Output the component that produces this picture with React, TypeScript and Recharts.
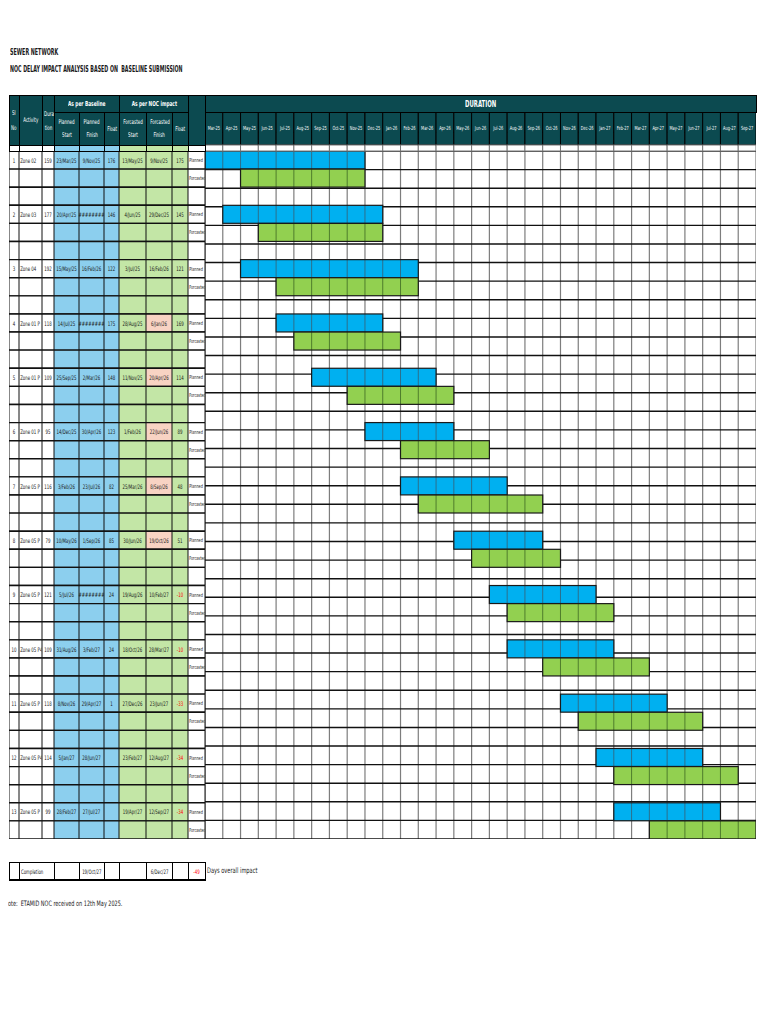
import React from "react";
import { Bar, BarChart, CartesianGrid, XAxis, YAxis } from "recharts";

const FONT = "'Liberation Sans Narrow', 'DejaVu Sans Condensed', 'Arial Narrow', sans-serif";
const TEAL = "#0c4a50";
const BLUE = "#00b0f0";
const GREEN = "#92d050";
const BLUE_LT = "#8ccfee";
const GREEN_LT = "#c3e6a6";
const PINK = "#f8d3c3";
const RED = "#ff0000";

const MONTHS = [
  "Mar-25", "Apr-25", "May-25", "Jun-25", "Jul-25", "Aug-25", "Sep-25", "Oct-25", "Nov-25", "Dec-25",
  "Jan-26", "Feb-26", "Mar-26", "Apr-26", "May-26", "Jun-26", "Jul-26", "Aug-26", "Sep-26", "Oct-26",
  "Nov-26", "Dec-26", "Jan-27", "Feb-27", "Mar-27", "Apr-27", "May-27", "Jun-27", "Jul-27", "Aug-27", "Sep-27",
];

const SL = [1, 2, 3, 4, 5, 6, 7, 8, 9, 10, 11, 12, 13];
const ACTIVITY = [
  "Zone 02", "Zone 03", "Zone 04", "Zone 01 P", "Zone 01 P", "Zone 01 P", "Zone 05 P",
  "Zone 05 P", "Zone 05 P", "Zone 05 P4", "Zone 05 P", "Zone 05 P4", "Zone 05 P",
];
const DURATION = [159, 177, 192, 118, 109, 95, 116, 79, 121, 109, 118, 114, 99];
const PLANNED_START = [
  "23/Mar/25", "20/Apr/25", "15/May/25", "14/Jul/25", "25/Sep/25", "14/Dec/25", "3/Feb/26",
  "10/May/26", "5/Jul/26", "31/Aug/26", "8/Nov/26", "5/Jan/27", "28/Feb/27",
];
const PLANNED_FINISH = [
  "9/Nov/25", "########", "16/Feb/26", "########", "2/Mar/26", "30/Apr/26", "23/Jul/26",
  "1/Sep/26", "########", "3/Feb/27", "29/Apr/27", "28/Jun/27", "27/Jul/27",
];
const BASE_FLOAT: (number | null)[] = [176, 146, 122, 175, 148, 123, 82, 85, 24, 24, 1, null, null];
const FC_START = [
  "13/May/25", "4/Jun/25", "3/Jul/25", "28/Aug/25", "11/Nov/25", "1/Feb/26", "25/Mar/26",
  "30/Jun/26", "19/Aug/26", "18/Oct/26", "27/Dec/26", "23/Feb/27", "19/Apr/27",
];
const FC_FINISH = [
  "9/Nov/25", "29/Dec/25", "16/Feb/26", "6/Jan/26", "20/Apr/26", "22/Jun/26", "8/Sep/26",
  "19/Oct/26", "10/Feb/27", "28/Mar/27", "23/Jun/27", "12/Aug/27", "12/Sep/27",
];
const FC_FINISH_FLAG = [false, false, false, true, true, true, true, true, false, false, false, false, false];
const FC_FLOAT = [175, 145, 121, 169, 114, 89, 48, 51, -10, -10, -33, -34, -34];

// month index (0 = Mar-25) of first and last month of each bar
const PLANNED_FROM = [0, 1, 2, 4, 6, 9, 11, 14, 16, 17, 20, 22, 23];
const PLANNED_TO = [8, 9, 11, 9, 12, 13, 16, 18, 21, 22, 25, 27, 28];
const FC_FROM = [2, 3, 4, 5, 8, 11, 12, 15, 17, 19, 21, 23, 25];
const FC_TO = [8, 9, 11, 10, 13, 15, 18, 19, 22, 24, 27, 29, 30];

const COMPLETION_PLANNED = "19/Oct/27";
const COMPLETION_FORECAST = "6/Dec/27";
const OVERALL_IMPACT = -49;

type Row = { key: string; kind: "planned" | "forecast" | "blank"; task: number; range: [number, number] | null };
const ROWS: Row[] = [];
SL.forEach((_, i) => {
  ROWS.push({ key: `p${i}`, kind: "planned", task: i, range: [PLANNED_FROM[i], PLANNED_TO[i] + 1] });
  ROWS.push({ key: `f${i}`, kind: "forecast", task: i, range: [FC_FROM[i], FC_TO[i] + 1] });
  if (i < SL.length - 1) ROWS.push({ key: `b${i}`, kind: "blank", task: i, range: null });
});

const CHART_LEFT = 9;
const CHART_TOP = 95;
const CHART_W = 747;
const CHART_H = 744;
const AXIS_W = 196;
const HEAD_H = 56;
const COL_W = (CHART_W - AXIS_W) / MONTHS.length;
const ROW_H = (CHART_H - HEAD_H) / ROWS.length;
const MONTH_TICKS = MONTHS.map((_, i) => i).concat(MONTHS.length);
const ROW_TICKS = ROWS.map((_, i) => i).concat(ROWS.length);
const SQ = 0.7; // horizontal squeeze for the narrow spreadsheet font

// left table column edges, relative to the table's left edge
const EDGES = [0, 10, 33, 45, 70, 95, 110, 137, 163, 179, 196];

function cellBg(row: Row, c: number) {
  if (c >= 3 && c <= 5) return BLUE_LT;
  if (c >= 6 && c <= 8) {
    if (c === 7 && row.kind === "planned" && FC_FINISH_FLAG[row.task]) return PINK;
    return GREEN_LT;
  }
  return "#fff";
}

function cellText(row: Row, c: number): { t: string; color?: string } {
  const i = row.task;
  if (c === 9) {
    if (row.kind === "planned") return { t: "Planned" };
    if (row.kind === "forecast") return { t: "Forcasted" };
    return { t: "" };
  }
  if (row.kind !== "planned") return { t: "" };
  switch (c) {
    case 0: return { t: String(SL[i]) };
    case 1: return { t: ACTIVITY[i] };
    case 2: return { t: String(DURATION[i]) };
    case 3: return { t: PLANNED_START[i] };
    case 4: return { t: PLANNED_FINISH[i] };
    case 5: return { t: BASE_FLOAT[i] == null ? "" : String(BASE_FLOAT[i]) };
    case 6: return { t: FC_START[i] };
    case 7: return { t: FC_FINISH[i] };
    case 8: return { t: String(FC_FLOAT[i]), color: FC_FLOAT[i] < 0 ? RED : undefined };
  }
  return { t: "" };
}

function TableRow(props: any) {
  const { x, y, payload } = props;
  const row = ROWS.find((r) => r.key === payload.value);
  if (!row) return null;
  const left = x - AXIS_W;
  const top = y - ROW_H / 2;
  return (
    <g>
      {EDGES.slice(0, -1).map((e, c) => {
        const w = EDGES[c + 1] - e;
        const { t, color } = cellText(row, c);
        const clip = c === 1 || c === 9;
        const id = `clip-${row.key}-${c}`;
        const anchor = clip ? "start" : "middle";
        const tx = clip ? left + e + 1.2 : left + e + w / 2;
        return (
          <g key={c}>
            <rect x={left + e} y={top} width={w} height={ROW_H} fill={cellBg(row, c)} />
            {clip && (
              <defs>
                <clipPath id={id}>
                  <rect x={left + e} y={top} width={w - 0.5} height={ROW_H} />
                </clipPath>
              </defs>
            )}
            {t && (
              <g clipPath={clip ? `url(#${id})` : undefined}>
                <text
                  x={tx}
                  y={y + 0.3}
                  textAnchor={anchor}
                  dominantBaseline="central"
                  fontSize={c === 9 ? 5.4 : 6.2}
                  fontFamily={FONT}
                  fill={color ?? "#1a1a1a"}
                  transform={`matrix(${SQ},0,0,1,${tx * (1 - SQ)},0)`}
                >
                  {t}
                </text>
              </g>
            )}
          </g>
        );
      })}
      {EDGES.map((e, c) => (
        <line key={`v${c}`} x1={left + e} x2={left + e} y1={top} y2={top + ROW_H} stroke="#111" strokeWidth={1} />
      ))}
      <line x1={left} x2={x} y1={top} y2={top} stroke="#111" strokeWidth={1.4} />
      <line x1={left} x2={x} y1={top + ROW_H} y2={top + ROW_H} stroke="#111" strokeWidth={1.4} />
    </g>
  );
}

function MonthTick(props: any) {
  const { x, y, payload } = props;
  const i = payload.value;
  if (i >= MONTHS.length) return null;
  const tx = x + COL_W / 2;
  return (
    <g>
      <rect x={x} y={y - 39} width={COL_W} height={33} fill={TEAL} stroke="#000" strokeWidth={1} />
      <rect x={x} y={y - 6} width={COL_W} height={6} fill="#fff" stroke="#777" strokeWidth={1} />
      <text
        x={tx}
        y={y - 22.5}
        textAnchor="middle"
        dominantBaseline="central"
        fill="#fff"
        fontSize={5.6}
        fontFamily={FONT}
        transform={`matrix(${SQ},0,0,1,${tx * (1 - SQ)},0)`}
      >
        {MONTHS[i]}
      </text>
    </g>
  );
}

function GanttBar(props: any) {
  const { x, y, width, height, payload } = props;
  if (!payload || !payload.range || !isFinite(width) || !isFinite(x)) return null;
  const n = payload.range[1] - payload.range[0];
  const fill = payload.kind === "planned" ? BLUE : GREEN;
  const divider = payload.kind === "planned" ? "#2c6f8c" : "#4f7d2c";
  return (
    <g>
      <rect x={x} y={y} width={width} height={height} fill={fill} />
      {Array.from({ length: n - 1 }, (_, k) => (
        <line
          key={k}
          x1={x + (width * (k + 1)) / n}
          x2={x + (width * (k + 1)) / n}
          y1={y}
          y2={y + height}
          stroke={divider}
          strokeWidth={1}
        />
      ))}
      <rect x={x} y={y} width={width} height={height} fill="none" stroke="#1a1a1a" strokeWidth={1.2} />
    </g>
  );
}

function N({ s = SQ, origin = "center", children }: any) {
  return (
    <span style={{ display: "inline-block", transform: `scaleX(${s})`, transformOrigin: origin, whiteSpace: "pre" }}>
      {children}
    </span>
  );
}

function Box({ x, y, w, h, bg, children, style }: any) {
  return (
    <div
      style={{
        position: "absolute",
        left: x,
        top: y,
        width: w + 1,
        height: h + 1,
        boxSizing: "border-box",
        border: "1px solid #000",
        background: bg,
        display: "flex",
        alignItems: "center",
        justifyContent: "center",
        textAlign: "center",
        color: "#fff",
        fontSize: 6.4,
        lineHeight: "13px",
        overflow: "hidden",
        ...style,
      }}
    >
      {children}
    </div>
  );
}

function Header() {
  const E = EDGES.map((e) => e + CHART_LEFT);
  const subs = [
    ["Planned", "Start"], ["Planned", "Finish"], ["Float"],
    ["Forcasted", "Start"], ["Forcasted", "Finish"], ["Float"],
  ];
  return (
    <>
      <Box x={E[0]} y={95} w={E[1] - E[0]} h={50} bg={TEAL} style={{ justifyContent: "flex-start", paddingLeft: 1, lineHeight: "15px" }}>
        <span>
          <N origin="left">Sl</N>
          <br />
          <N origin="left">No</N>
        </span>
      </Box>
      <Box x={E[1]} y={95} w={E[2] - E[1]} h={50} bg={TEAL}><N>Activity</N></Box>
      <Box x={E[2]} y={95} w={E[3] - E[2]} h={50} bg={TEAL} style={{ lineHeight: "14px" }}>
        <span>
          <N>Dura</N>
          <br />
          <N>tion</N>
        </span>
      </Box>
      <Box x={E[3]} y={95} w={E[6] - E[3]} h={17} bg={TEAL} style={{ fontWeight: 700, fontSize: 6.8 }}>
        <N>As per Baseline</N>
      </Box>
      <Box x={E[6]} y={95} w={E[9] - E[6]} h={17} bg={TEAL} style={{ fontWeight: 700, fontSize: 6.8 }}>
        <N>As per NOC impact</N>
      </Box>
      <Box x={E[9]} y={95} w={E[10] - E[9]} h={50} bg={TEAL} />
      {subs.map((s, k) => (
        <Box key={k} x={E[3 + k]} y={112} w={E[4 + k] - E[3 + k]} h={33} bg={TEAL}>
          <span>
            {s.map((part, j) => (
              <React.Fragment key={j}>
                {j > 0 && <br />}
                <N>{part}</N>
              </React.Fragment>
            ))}
          </span>
        </Box>
      ))}
      {E.slice(0, -1).map((e, c) => (
        <Box
          key={`s${c}`}
          x={e}
          y={145}
          w={E[c + 1] - e}
          h={6}
          bg={c >= 3 && c <= 5 ? BLUE_LT : c >= 6 && c <= 8 ? GREEN_LT : "#fff"}
        />
      ))}
      <Box x={205} y={95} w={551} h={17} bg={TEAL} style={{ fontWeight: 700, fontSize: 9 }}>
        <N s={0.66}>DURATION</N>
      </Box>
    </>
  );
}

function Completion() {
  const cells = [
    { x0: 9, x1: 19, t: "" },
    { x0: 19, x1: 54, t: "Completion", left: true },
    { x0: 54, x1: 79, t: "" },
    { x0: 79, x1: 104, t: COMPLETION_PLANNED },
    { x0: 104, x1: 119, t: "" },
    { x0: 119, x1: 146, t: "" },
    { x0: 146, x1: 172, t: COMPLETION_FORECAST },
    { x0: 172, x1: 188, t: "" },
    { x0: 188, x1: 205, t: String(OVERALL_IMPACT), red: true },
  ];
  return (
    <>
      {cells.map((c, k) => (
        <Box
          key={k}
          x={c.x0}
          y={862}
          w={c.x1 - c.x0}
          h={18}
          bg="#fff"
          style={{
            color: c.red ? RED : "#1a1a1a",
            borderBottom: "2px solid #000",
            justifyContent: c.left ? "flex-start" : "center",
            paddingLeft: c.left ? 1 : 0,
            fontSize: 6.2,
          }}
        >
          {c.t && <N origin={c.left ? "left" : "center"}>{c.t}</N>}
        </Box>
      ))}
      <div style={{ position: "absolute", left: 207, top: 866, fontSize: 7.6, color: "#1a1a1a", lineHeight: "9px" }}>
        <N s={0.74} origin="left">Days overall impact</N>
      </div>
    </>
  );
}

export default function App() {
  return (
    <div
      style={{
        position: "absolute",
        left: 0,
        top: 0,
        width: 768,
        height: 1024,
        background: "#fff",
        fontFamily: FONT,
        color: "#1a1a1a",
      }}
    >
      <div style={{ position: "absolute", left: 10, top: 47, fontSize: 8.4, fontWeight: 700, lineHeight: "10px" }}>
        <N s={0.64} origin="left">SEWER NETWORK</N>
      </div>
      <div style={{ position: "absolute", left: 10, top: 64, fontSize: 8.4, fontWeight: 700, lineHeight: "10px" }}>
        <N s={0.63} origin="left">{"NOC DELAY IMPACT ANALYSIS BASED ON  BASELINE SUBMISSION"}</N>
      </div>

      <div style={{ position: "absolute", left: CHART_LEFT, top: CHART_TOP }}>
        <BarChart
          width={CHART_W}
          height={CHART_H}
          data={ROWS}
          layout="vertical"
          margin={{ top: 0, right: 0, bottom: 0, left: 0 }}
          barCategoryGap={0}
        >
          <CartesianGrid yAxisId="grid" stroke="#7d7d7d" strokeWidth={1.2} horizontal={false} />
          <CartesianGrid yAxisId="grid" stroke="#111" strokeWidth={1.4} vertical={false} />
          <XAxis
            type="number"
            orientation="top"
            domain={[0, MONTHS.length]}
            ticks={MONTH_TICKS}
            interval={0}
            height={HEAD_H}
            axisLine={false}
            tickLine={false}
            tickSize={0}
            tickMargin={0}
            tick={(p: any) => <MonthTick {...p} />}
          />
          <YAxis
            type="category"
            dataKey="key"
            width={AXIS_W}
            interval={0}
            axisLine={false}
            tickLine={false}
            tickSize={0}
            tickMargin={0}
            tick={(p: any) => <TableRow {...p} />}
          />
          <YAxis
            yAxisId="grid"
            type="number"
            domain={[0, ROWS.length]}
            ticks={ROW_TICKS}
            interval={0}
            reversed
            hide
          />
          <Bar dataKey="range" isAnimationActive={false} shape={(p: any) => <GanttBar {...p} />} />
        </BarChart>
      </div>

      <Header />
      <Completion />

      <div style={{ position: "absolute", left: 8, top: 899, fontSize: 7.4, lineHeight: "9px" }}>
        <N s={0.74} origin="left">{"ote:  ETAMID NOC received on 12th May 2025."}</N>
      </div>
    </div>
  );
}
